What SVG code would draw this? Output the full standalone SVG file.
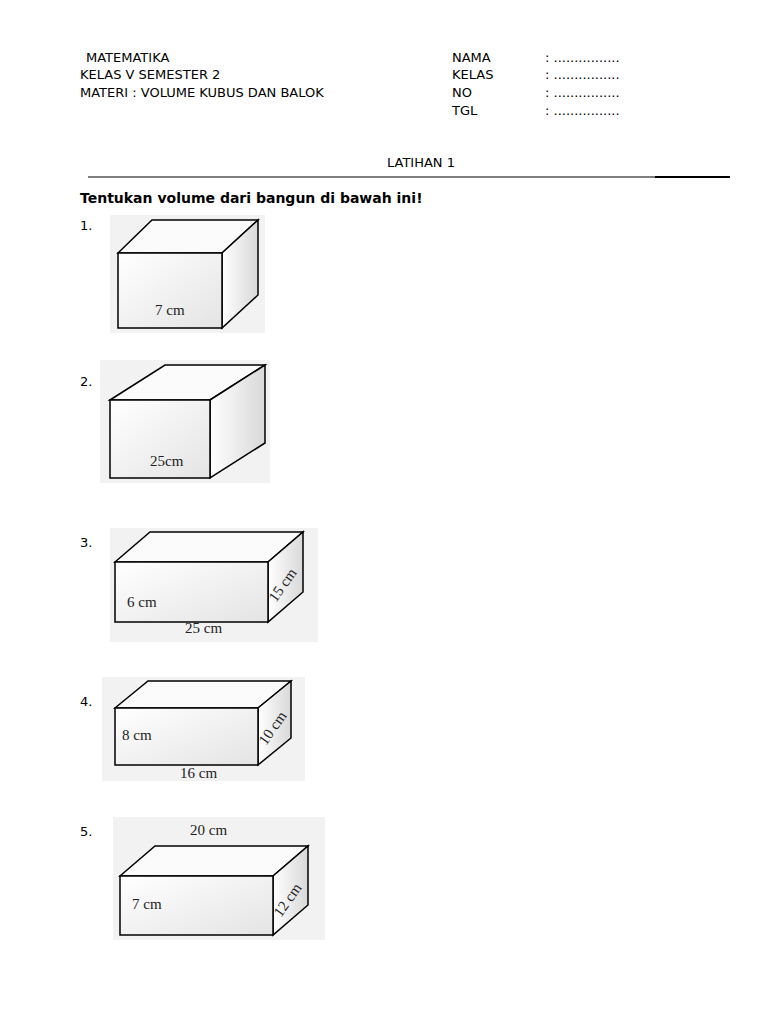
<svg xmlns="http://www.w3.org/2000/svg" width="768" height="1024" viewBox="0 0 768 1024">
<defs>
<style>
.h{font-family:"DejaVu Sans",Verdana,sans-serif;font-size:13px;fill:#000}
.b{font-family:"DejaVu Sans",Verdana,sans-serif;font-size:14px;font-weight:bold;fill:#000}
.s{font-family:"Liberation Serif","Times New Roman",serif;font-size:15px;fill:#222}
.bg{fill:#f2f2f2}
.f{fill:url(#gf);stroke:#000;stroke-width:1.5}
.t{fill:#fbfbfb;stroke:#000;stroke-width:1.5}
.r{fill:url(#gr);stroke:#000;stroke-width:1.5}
</style>
<linearGradient id="gf" x1="0" y1="0" x2="1" y2="1"><stop offset="0" stop-color="#fff"/><stop offset="1" stop-color="#e4e4e4"/></linearGradient>
<linearGradient id="gr" x1="0" y1="0" x2="1" y2="0"><stop offset="0" stop-color="#fff"/><stop offset="1" stop-color="#d8d8d8"/></linearGradient>
</defs>
<rect width="768" height="1024" fill="#fff"/>
<text class="h" x="86" y="62">MATEMATIKA</text>
<text class="h" x="80" y="79">KELAS V SEMESTER 2</text>
<text class="h" x="80" y="97">MATERI : VOLUME KUBUS DAN BALOK</text>
<text class="h" x="452" y="62">NAMA</text><text class="h" x="545" y="62">:  ................</text>
<text class="h" x="452" y="79">KELAS</text><text class="h" x="545" y="79">:  ................</text>
<text class="h" x="452" y="97">NO</text><text class="h" x="545" y="97">:  ................</text>
<text class="h" x="452" y="115">TGL</text><text class="h" x="545" y="115">:  ................</text>
<text class="h" x="421" y="167" text-anchor="middle">LATIHAN 1</text>
<line x1="88" y1="177" x2="730" y2="177" stroke="#000" stroke-width="1.2"/>
<line x1="655" y1="177" x2="730" y2="177" stroke="#000" stroke-width="2"/>
<text class="b" x="80" y="203">Tentukan volume dari bangun di bawah ini!</text>
<text class="h" x="80" y="230">1.</text>
<text class="h" x="80" y="386">2.</text>
<text class="h" x="80" y="547">3.</text>
<text class="h" x="80" y="706">4.</text>
<text class="h" x="80" y="836">5.</text>

<g id="box1">
<rect class="bg" x="110" y="215" width="155" height="118"/>
<polygon class="t" points="118,253 152,220 258,220 222,253"/>
<polygon class="r" points="222,253 258,220 258,295 222,328"/>
<rect class="f" x="118" y="253" width="104" height="75"/>
<text class="s" x="155" y="315">7 cm</text>
</g>
<g id="box2">
<rect class="bg" x="100" y="360" width="170" height="123"/>
<polygon class="t" points="110,400 165,365 265,365 210,400"/>
<polygon class="r" points="210,400 265,365 265,443 210,478"/>
<rect class="f" x="110" y="400" width="100" height="78"/>
<text class="s" x="150" y="466">25cm</text>
</g>
<g id="box3">
<rect class="bg" x="110" y="528" width="208" height="114"/>
<polygon class="t" points="115,562 150,532 303,532 268,562"/>
<polygon class="r" points="268,562 303,532 303,592 268,622"/>
<rect class="f" x="115" y="562" width="153" height="60"/>
<text class="s" x="127" y="607">6 cm</text>
<text class="s" x="185" y="633">25 cm</text>
<text class="s" x="0" y="0" transform="translate(276,603) rotate(-55)">15 cm</text>
</g>
<g id="box4">
<rect class="bg" x="102" y="677" width="203" height="104"/>
<polygon class="t" points="115,708 148,681 291,681 258,708"/>
<polygon class="r" points="258,708 291,681 291,738 258,765"/>
<rect class="f" x="115" y="708" width="143" height="57"/>
<text class="s" x="122" y="740">8 cm</text>
<text class="s" x="180" y="778">16 cm</text>
<text class="s" x="0" y="0" transform="translate(266,746) rotate(-55)">10 cm</text>
</g>
<g id="box5">
<rect class="bg" x="113" y="817" width="212" height="123"/>
<text class="s" x="190" y="835">20 cm</text>
<polygon class="t" points="120,876 155,846 308,846 273,876"/>
<polygon class="r" points="273,876 308,846 308,905 273,935"/>
<rect class="f" x="120" y="876" width="153" height="59"/>
<text class="s" x="132" y="909">7 cm</text>
<text class="s" x="0" y="0" transform="translate(281,918) rotate(-55)">12 cm</text>
</g>
</svg>
